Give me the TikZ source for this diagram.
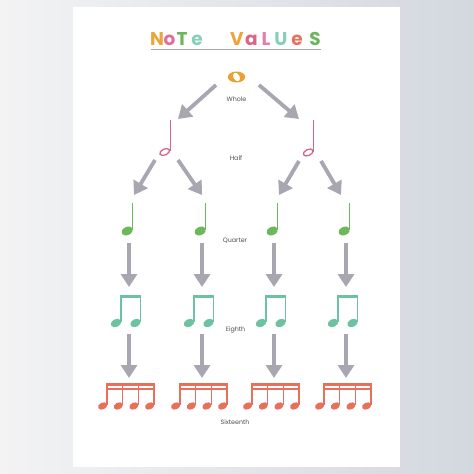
\documentclass[tikz,border=0pt]{standalone}
\usepackage{fontspec}
\setmainfont{Poppins}
\usetikzlibrary{arrows.meta}

\definecolor{bgleft}{HTML}{F3F3F4}
\definecolor{bgright}{HTML}{D3D8DF}
\definecolor{arrowgray}{HTML}{A7A6B1}
\definecolor{labelgray}{HTML}{4E4E4E}
\definecolor{linegray}{HTML}{A9A9AB}
\definecolor{cWhole}{HTML}{E9A12F}
\definecolor{cHalf}{HTML}{D8658F}
\definecolor{cQuarter}{HTML}{6DB85B}
\definecolor{cEighth}{HTML}{6CC2A1}
\definecolor{cSixteenth}{HTML}{E8705A}
\definecolor{tOrange}{HTML}{EDA53B}
\definecolor{tPink}{HTML}{E26C9C}
\definecolor{tGreen}{HTML}{6BB65A}
\definecolor{tTeal}{HTML}{86CFB8}
\definecolor{tRose}{HTML}{DE6284}
\definecolor{tLPink}{HTML}{E27DAE}
\definecolor{tCoral}{HTML}{E5735F}

\tikzset{
  wholenote/.pic={
    \fill[cWhole] (-1,0) ellipse [x radius=8.7, y radius=5.5];
    \fill[white, shift={(-1,0)}, rotate=30] (0,0) ellipse [x radius=3.1, y radius=4.5];
  },
  halfnote/.pic={
    \draw[cHalf, line width=1.3pt, shift={(-1.8,12.5)}, rotate=25] (0,0) ellipse [x radius=5.2, y radius=3.0];
    \draw[cHalf, line width=1.2pt] (3.6,11.5) -- (3.6,-20);
  },
  quarternote/.pic={
    \fill[cQuarter, shift={(-1.8,12)}, rotate=25] (0,0) ellipse [x radius=6.0, y radius=4.1];
    \draw[cQuarter, line width=1.3pt] (3.4,11) -- (3.4,-16);
  },
  eighthnote/.pic={
    \foreach \hx in {-13,6.5}{
      \fill[cEighth, shift={(\hx,12.5)}, rotate=25] (0,0) ellipse [x radius=5.5, y radius=3.9];
      \draw[cEighth, line width=1.3pt] ({\hx+5},11.5) -- ({\hx+5},-14.5);
    }
    \fill[cEighth] (-8.65,-15.5) rectangle (12.15,-12.7);
  },
  sixteenthnote/.pic={
    \foreach \sx in {-22,-6.3,9.3,25}{
      \fill[cSixteenth, shift={({\sx-4.4},11)}, rotate=25] (0,0) ellipse [x radius=4.8, y radius=3.4];
      \draw[cSixteenth, line width=1.3pt] (\sx,10) -- (\sx,-11.6);
    }
    \fill[cSixteenth] (-22.65,-11.65) rectangle (25.65,-9.35);
    \fill[cSixteenth] (-22.65,-6.85) rectangle (25.65,-4.55);
  }
}

\begin{document}
\begin{tikzpicture}[x=1pt,y=-1pt,
    arr/.style={draw=arrowgray,line width=3.8pt,-{Triangle[width=16pt,length=13pt]}},
    notebox/.style={inner sep=0pt,outer sep=0pt},
    lbl/.style={font=\fontsize{6.3}{7}\selectfont,text=labelgray,inner sep=0pt},
    letter/.style={font=\fontsize{18.5}{18}\selectfont\bfseries,inner sep=0pt,anchor=base}]
  \useasboundingbox (0,0) rectangle (474,474);
  % backdrop and poster
  \shade[left color=bgleft,right color=bgright] (0,0) rectangle (474,474);
  \fill[white] (73,7) rectangle (400,467);

  % title
  \foreach \c/\x/\col [count=\i] in {N/157/tOrange,o/169.5/tPink,T/182/tGreen,e/197/tTeal,
      V/237/tOrange,a/251.5/tRose,L/266/tLPink,U/281/tTeal,e/297/tCoral,S/315/tGreen}
    \node[letter,text=\col](t\i)at(\x,45){\c};
  \draw[linegray,line width=1.2pt] (151,49.5) -- (321,49.5);

  % notes
  \node[notebox,minimum width=43pt,minimum height=16pt](whole)at(237.5,77){};
  \node[notebox,minimum width=23pt,minimum height=41pt](halfL)at(166.5,139.5){};
  \node[notebox,minimum width=22pt,minimum height=42pt](halfR)at(310,140){};
  \foreach \n/\x in {1/129,2/202,3/274,4/346}{
    \node[notebox,minimum width=10pt,minimum height=48pt](Q\n)at(\x,219){};
    \node[notebox,minimum width=10pt,minimum height=47pt](E\n)at(\x,310.5){};
    \node[notebox,minimum width=10pt,minimum height=34pt](S\n)at(\x,395){};
    \pic at (Q\n) {quarternote};
    \pic at (E\n) {eighthnote};
    \pic at (S\n) {sixteenthnote};
  }
  \pic at (whole) {wholenote};
  \pic at (halfL) {halfnote};
  \pic at (halfR) {halfnote};

  % labels
  \node[lbl](lWhole)at(236.5,99){Whole};
  \node[lbl](lHalf)at(236,158){Half};
  \node[lbl](lQuarter)at(235,241){Quarter};
  \node[lbl](lEighth)at(235.5,330){Eighth};
  \node[lbl](lSixteenth)at(235,422){Sixteenth};

  % arrows
  \path(whole.south west) edge[arr] (halfL.north east)
    (whole.south east) edge[arr] (halfR.north west)
    (halfL.south west) edge[arr] (Q1.north east)
    (halfL.south east) edge[arr] (Q2.north)
    (halfR.south west) edge[arr] (Q3.north east)
    (halfR.south east) edge[arr] (Q4.north west);
  \foreach \n in {1,...,4}
    \path(Q\n) edge[arr] (E\n)
      (E\n) edge[arr] (S\n);
\end{tikzpicture}
\end{document}
